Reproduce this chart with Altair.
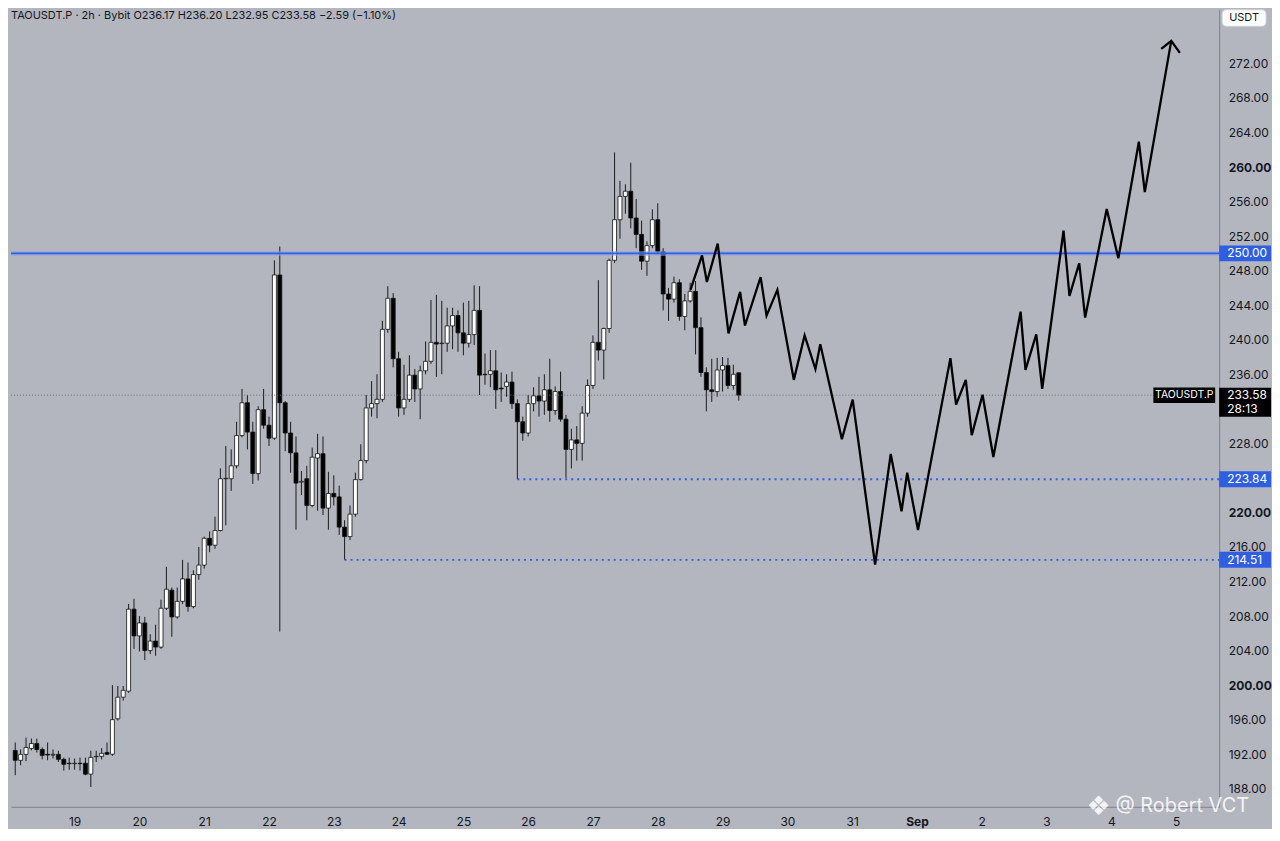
import altair as alt
import pandas as pd

# ---------------- data ----------------
# 2h candles, first bar 2025-08-18 02:00 UTC
opens = [192.44, 191.29, 191.98, 192.67, 193.24, 192.55, 191.98, 191.90, 191.98, 191.40,
         190.95, 190.90, 190.95, 190.95, 189.69, 191.70, 191.75, 192.20, 192.00, 196.10,
         198.60, 199.30, 208.80, 205.70, 207.20, 204.00, 205.10, 204.40, 208.90, 211.00,
         207.90, 209.70, 212.30, 209.10, 212.80, 213.90, 217.00, 216.20, 217.90, 223.90,
         223.90, 225.40, 228.90, 232.70, 229.30, 224.50, 231.90, 230.10, 228.60, 247.50,
         232.70, 229.20, 226.90, 223.50, 223.90, 220.80, 226.30, 226.80, 220.50, 222.20,
         221.80, 218.30, 217.20, 219.80, 223.80, 226.00, 232.10, 232.60, 233.10, 241.20,
         244.80, 237.80, 232.10, 233.10, 235.90, 234.30, 236.40, 237.50, 239.70, 239.55,
         239.60, 241.60, 242.80, 240.80, 239.60, 240.60, 243.40, 236.00, 236.00, 236.40,
         234.40, 234.60, 235.10, 232.60, 230.50, 229.20, 232.60, 233.50, 232.90, 234.20,
         231.80, 234.00, 230.80, 227.30, 228.40, 228.00, 231.50, 234.70, 239.70, 238.80,
         241.30, 249.20, 253.90, 256.60, 257.20, 254.10, 252.20, 249.10, 250.90, 253.90,
         250.20, 245.30, 244.70, 246.60, 242.70, 244.50, 245.60, 241.40, 236.20, 234.20,
         234.00, 236.50, 237.00, 234.70, 236.17]
highs = [193.35, 192.55, 193.92, 193.81, 193.81, 192.78, 193.35, 192.55, 192.40, 191.60,
         191.60, 191.50, 191.60, 191.60, 192.40, 192.40, 192.70, 193.35, 200.00, 199.90,
         199.90, 209.40, 210.00, 208.00, 207.90, 205.90, 207.00, 209.90, 213.70, 211.30,
         211.30, 214.50, 214.20, 213.30, 216.00, 217.20, 217.80, 219.50, 225.10, 227.70,
         227.30, 230.50, 234.30, 233.60, 230.50, 232.30, 234.30, 231.10, 249.20, 250.80,
         232.90, 230.50, 228.80, 224.80, 225.40, 227.50, 229.10, 228.80, 224.70, 224.30,
         223.10, 219.10, 220.80, 224.60, 227.90, 233.60, 235.20, 236.00, 242.20, 246.20,
         245.40, 238.60, 237.10, 238.20, 236.60, 237.00, 239.80, 244.60, 245.20, 244.50,
         243.70, 243.70, 243.40, 244.30, 244.50, 246.30, 246.20, 238.40, 238.80, 238.80,
         236.20, 236.00, 236.30, 233.10, 231.10, 233.60, 234.50, 235.70, 236.00, 237.80,
         234.60, 236.30, 231.30, 229.70, 230.00, 232.30, 235.40, 240.50, 246.90, 241.40,
         249.40, 261.70, 258.40, 258.00, 260.50, 256.30, 253.80, 251.40, 255.10, 255.80,
         250.60, 246.00, 247.30, 247.00, 245.30, 246.60, 246.80, 242.60, 236.80, 237.80,
         237.90, 238.00, 237.90, 237.10, 236.20]
lows = [189.57, 190.72, 191.20, 192.44, 192.20, 191.40, 191.30, 191.50, 191.10, 190.10,
        190.20, 190.20, 190.10, 189.57, 188.20, 191.10, 191.40, 191.90, 191.80, 195.90,
        198.20, 199.10, 204.20, 203.90, 202.90, 203.60, 203.40, 204.20, 208.70, 205.60,
        207.70, 209.40, 208.50, 208.90, 212.20, 213.50, 215.40, 215.80, 217.80, 218.50,
        222.50, 225.10, 228.70, 227.30, 223.30, 223.70, 229.70, 227.70, 228.40, 206.20,
        227.10, 224.60, 218.00, 222.00, 219.10, 220.60, 220.20, 219.70, 218.00, 220.80,
        217.40, 214.51, 216.80, 219.50, 223.70, 225.70, 231.10, 230.90, 232.80, 240.80,
        236.80, 231.10, 231.30, 232.80, 232.80, 230.80, 236.00, 237.20, 235.70, 236.00,
        238.60, 238.90, 238.60, 238.20, 239.10, 239.40, 233.60, 234.80, 234.50, 232.00,
        232.80, 233.40, 232.00, 223.84, 228.30, 228.80, 231.70, 231.10, 231.30, 230.50,
        231.30, 230.50, 224.00, 225.10, 226.00, 226.00, 231.10, 234.30, 237.60, 235.40,
        240.80, 248.90, 251.70, 254.60, 252.90, 250.60, 248.10, 247.40, 250.60, 250.00,
        243.40, 242.20, 244.30, 242.20, 241.10, 244.30, 238.30, 235.70, 231.70, 232.80,
        233.40, 234.00, 234.30, 234.20, 232.95]
closes = [191.29, 191.98, 192.78, 193.24, 192.55, 191.86, 191.90, 191.98, 191.40, 190.83,
          190.90, 190.95, 190.90, 189.69, 191.63, 191.75, 192.10, 192.00, 196.00, 198.60,
          199.40, 208.80, 205.70, 207.20, 204.00, 205.10, 204.40, 208.90, 211.10, 207.90,
          209.70, 212.30, 209.10, 212.80, 213.90, 217.00, 216.20, 217.90, 223.90, 223.95,
          225.40, 228.90, 232.70, 229.30, 224.50, 231.90, 230.10, 228.60, 247.50, 232.70,
          229.20, 226.90, 223.40, 223.60, 220.80, 226.40, 226.80, 220.50, 222.20, 221.80,
          218.30, 217.20, 219.80, 223.80, 226.00, 232.10, 232.60, 233.10, 241.20, 244.80,
          237.80, 232.10, 233.10, 235.90, 234.30, 236.40, 237.50, 239.70, 239.50, 239.60,
          241.60, 242.80, 240.80, 239.60, 240.60, 243.40, 235.90, 235.95, 236.40, 234.20,
          234.30, 235.10, 232.60, 230.50, 229.20, 232.60, 233.50, 232.90, 234.20, 231.80,
          234.00, 230.80, 227.30, 228.40, 228.00, 231.50, 234.70, 239.70, 238.80, 241.30,
          249.20, 253.90, 256.60, 257.20, 254.10, 252.20, 249.10, 250.90, 253.90, 250.20,
          245.30, 244.70, 246.60, 242.70, 244.50, 245.60, 241.40, 236.20, 234.20, 234.00,
          236.50, 237.00, 234.70, 236.00, 233.58]

# projected path (hours after 2025-08-19 00:00 UTC, price)
proj_hours = [228.1, 232.4, 234.2, 238.2, 242.2, 246.5, 248.3, 254.1, 256.3, 260.3,
              266.4, 270.4, 274.4, 276.2, 284.2, 288.2, 296.5, 302.3, 306.3, 308.4,
              312.4, 324.4, 326.5, 330.1, 332.3, 336.3, 340.3, 350.4, 352.2, 356.2,
              358.4, 366.3, 368.5, 372.1, 374.3, 382.3, 386.6, 394.2, 396.4, 406.2]
proj_prices = [245.77, 249.77, 246.68, 251.14, 240.73, 245.54, 241.65, 247.25, 242.79, 245.77,
               235.35, 240.50, 236.61, 239.47, 228.48, 233.06, 213.95, 226.77, 220.13, 224.59,
               217.96, 237.87, 232.49, 235.35, 228.94, 233.63, 226.42, 243.25, 236.50, 240.62,
               234.32, 252.63, 245.08, 248.86, 242.56, 255.15, 249.43, 262.93, 257.10, 274.61]
arrow_hours = [402.5, 406.2, 409.4]
arrow_prices = [273.69, 274.61, 273.23]

resistance = 250.00
support_prices = [223.84, 214.51]
support_start_hours = [164, 100]
last_price = 233.58
countdown = "28:13"
symbol = "TAOUSDT.P"
header = "TAOUSDT.P · 2h · Bybit  O236.17  H236.20  L232.95  C233.58  −2.59 (−1.10%)"
y_ticks = [188, 192, 196, 200, 204, 208, 212, 216, 220, 228, 236, 240, 244, 248, 252, 256, 260, 264, 268, 272]

# ---------------- helpers ----------------
W, H = 1212, 800
base = pd.Timestamp("2025-08-19 00:00", tz="UTC")


def ms(ts):
    return int(ts.value // 10**6)


def hms(h):
    return ms(base + pd.Timedelta(hours=h))


bar_times = pd.date_range("2025-08-18 02:00", periods=len(opens), freq="2h", tz="UTC")
candles = pd.DataFrame({"t": [ms(t) for t in bar_times], "o": opens, "h": highs,
                        "l": lows, "c": closes})
proj = pd.DataFrame({"t": [hms(h) for h in proj_hours], "p": proj_prices,
                     "k": list(range(len(proj_hours)))})
arrow = pd.DataFrame({"t": [hms(h) for h in arrow_hours], "p": arrow_prices,
                      "k": [0, 1, 2]})
supports = pd.DataFrame({"t": [hms(h) for h in support_start_hours], "p": support_prices})
blue_tags = pd.DataFrame({"p": [resistance] + support_prices,
                          "lbl": [f"{v:.2f}" for v in [resistance] + support_prices]})
last_df = pd.DataFrame({"p": [last_price], "lbl": [f"{last_price:.2f}"],
                        "cd": [countdown], "sym": [symbol]})
res_df = pd.DataFrame({"p": [resistance]})
one = pd.DataFrame({"a": [0]})

x_dom = [hms(-21.72), hms(422.1)]
y_dom = [185.91, 278.27]
xs = alt.Scale(type="utc", domain=x_dom)
ys = alt.Scale(domain=y_dom, nice=False, zero=False)

FONT = "Inter"
TXT = "#131722"
BLUE = "#2f5fe0"
AXC = "#7d808a"

x_axis = alt.Axis(
    values=[hms(24 * d) for d in range(0, 18)],
    labelExpr="utcdate(datum.value) == 1 ? utcFormat(datum.value, '%b') : '' + utcdate(datum.value)",
    labelFontWeight={"condition": {"test": "utcdate(datum.value) == 1", "value": "bold"},
                     "value": "normal"},
    ticks=False, grid=False, domainColor=AXC, domainWidth=1,
    labelColor=TXT, labelFont=FONT, labelFontSize=12, labelPadding=10,
    labelOverlap=False, labelFlush=False, title=None)
y_axis = alt.Axis(
    orient="right", values=y_ticks, format=".2f",
    labelFontWeight={"condition": {"test": "datum.value == 200 || datum.value == 220 || datum.value == 260",
                                   "value": "bold"}, "value": "normal"},
    ticks=False, grid=False, domainColor=AXC, domainWidth=1,
    labelColor=TXT, labelFont=FONT, labelFontSize=12, labelPadding=9,
    labelOverlap=False, labelFlush=False, title=None)


def X(field="t"):
    return alt.X(f"{field}:T", scale=xs, axis=x_axis)


def Y(field="p"):
    return alt.Y(f"{field}:Q", scale=ys, axis=y_axis)


# ---------------- layers ----------------
wicks = alt.Chart(candles).mark_rule(color="#1c1c1c", strokeWidth=1, clip=True).encode(
    x=X(), y=Y("l"), y2="h:Q")

bodies = alt.Chart(candles).mark_bar(size=4, stroke="#111111", strokeWidth=0.8, clip=True).encode(
    x=X(), y=Y("o"), y2="c:Q",
    fill=alt.condition("datum.c >= datum.o", alt.value("#ffffff"), alt.value("#000000")))

price_line = alt.Chart(last_df).mark_rule(color="#6b6e78", strokeWidth=1, strokeDash=[1, 2]).encode(
    y=Y(), x=alt.value(0), x2=alt.value(W - 64))

res_glow = alt.Chart(res_df).mark_rule(color="#8ea2ea", strokeWidth=5, opacity=0.55).encode(y=Y())
res_line = alt.Chart(res_df).mark_rule(color=BLUE, strokeWidth=1.7).encode(y=Y())

sup_lines = alt.Chart(supports).mark_rule(color=BLUE, strokeWidth=1.8, strokeDash=[2, 4]).encode(
    x=X(), x2=alt.value(W), y=Y())

proj_line = alt.Chart(proj).mark_line(color="#000000", strokeWidth=2.3, strokeJoin="miter",
                                      strokeMiterLimit=4).encode(
    x=X(), y=Y(), order="k:Q")
arrow_line = alt.Chart(arrow).mark_line(color="#000000", strokeWidth=2.3, strokeJoin="miter",
                                        strokeMiterLimit=6).encode(
    x=X(), y=Y(), order="k:Q")

TAG_PATH = "M-1,-0.3077L1,-0.3077L1,0.3077L-1,0.3077Z"
blue_tag_bg = alt.Chart(blue_tags).mark_point(shape=TAG_PATH, size=52 * 52, filled=True,
                                              fill=BLUE, opacity=1, strokeWidth=0).encode(
    x=alt.value(W + 26), y=Y())
blue_tag_txt = alt.Chart(blue_tags).mark_text(align="left", baseline="middle", font=FONT,
                                              fontSize=12, color="#ffffff").encode(
    x=alt.value(W + 8), y=Y(), text="lbl:N")

last_tag_bg = alt.Chart(last_df).mark_point(shape="M-1,-0.29L1,-0.29L1,0.83L-1,0.83Z",
                                            size=52 * 52, filled=True, fill="#000000",
                                            opacity=1, strokeWidth=0).encode(
    x=alt.value(W + 26), y=Y())
last_tag_txt = alt.Chart(last_df).mark_text(align="left", baseline="middle", font=FONT,
                                            fontSize=12, color="#ffffff").encode(
    x=alt.value(W + 8), y=Y(), text="lbl:N")
last_tag_cd = alt.Chart(last_df).mark_text(align="left", baseline="middle", font=FONT,
                                           fontSize=12, color="#ffffff", dy=14).encode(
    x=alt.value(W + 8), y=Y(), text="cd:N")
sym_bg = alt.Chart(last_df).mark_point(shape="M-1,-0.25L1,-0.25L1,0.25L-1,0.25Z",
                                       size=62 * 62, filled=True, fill="#000000",
                                       opacity=1, strokeWidth=0).encode(
    x=alt.value(W - 35), y=Y())
sym_txt = alt.Chart(last_df).mark_text(align="center", baseline="middle", font=FONT,
                                       fontSize=10.5, color="#ffffff").encode(
    x=alt.value(W - 35), y=Y(), text="sym:N")

usdt_box = alt.Chart(one).mark_rect(fill="#ffffff", stroke="#cfd2d9", strokeWidth=1,
                                    cornerRadius=4).encode(
    x=alt.value(W + 3), x2=alt.value(W + 47), y=alt.value(0.5), y2=alt.value(17))
usdt_txt = alt.Chart(one).mark_text(align="center", baseline="middle", font=FONT, fontSize=11,
                                    color=TXT, text="USDT").encode(
    x=alt.value(W + 25), y=alt.value(9))

head_txt = alt.Chart(one).mark_text(align="left", baseline="middle", font=FONT, fontSize=11,
                                    color=TXT, text=header).encode(
    x=alt.value(0), y=alt.value(7))

wm_logo = alt.Chart(one).mark_text(align="center", baseline="middle", font="DejaVu Sans",
                                   fontSize=27, color="#ffffff", opacity=0.85,
                                   text="❖").encode(
    x=alt.value(1091), y=alt.value(800))
wm_txt = alt.Chart(one).mark_text(align="left", baseline="middle", font=FONT, fontSize=20,
                                  color="#ffffff", opacity=0.85,
                                  text="@ Robert VCT").encode(
    x=alt.value(1108), y=alt.value(799))

chart = alt.layer(
    wicks, bodies, price_line, res_glow, res_line, sup_lines, proj_line, arrow_line,
    sym_bg, sym_txt, blue_tag_bg, blue_tag_txt, last_tag_bg, last_tag_txt, last_tag_cd,
    usdt_box, usdt_txt, head_txt, wm_logo, wm_txt
).properties(
    width=W, height=H, padding=0, background="#b3b6bf"
).configure_view(stroke=None)

chart.save("out.html", embed_options={"renderer": "svg", "actions": False})
